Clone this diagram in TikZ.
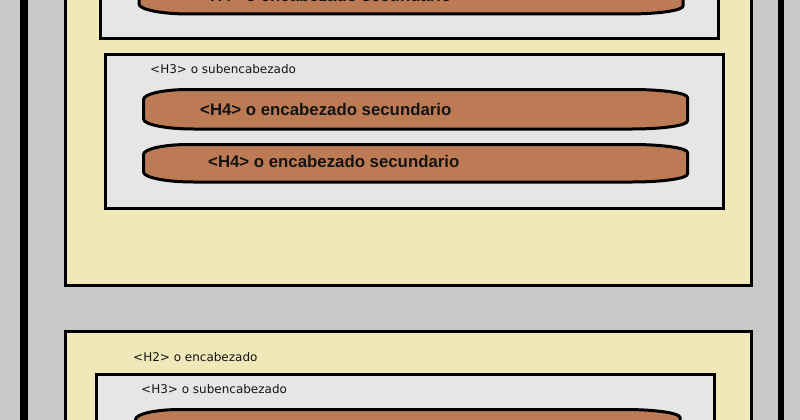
\documentclass[tikz,border=0pt]{standalone}
\usepackage{fontspec}
\setmainfont{Liberation Sans}
\newfontfamily\smallfont{DejaVu Sans}
\definecolor{bggray}{RGB}{200,200,200}
\definecolor{paleyellow}{RGB}{240,232,184}
\definecolor{lightgray}{RGB}{230,230,230}
\definecolor{pillbrown}{RGB}{188,123,84}
\newcommand\mypill[4]{%
  \filldraw[pillstyle] (#1,#2+10) arc[start angle=180,end angle=270,x radius=45,y radius=10]
    -- (#3-55,#2) arc[start angle=270,end angle=360,x radius=55,y radius=8]
    -- (#3,#4-8) arc[start angle=0,end angle=90,x radius=55,y radius=8]
    -- (#1+50,#4) arc[start angle=90,end angle=180,x radius=50,y radius=10] -- cycle;}
\tikzset{
  h2box/.style={fill=paleyellow,draw=black,line width=3pt},
  h3box/.style={fill=lightgray,draw=black,line width=3pt},
  pillstyle/.style={fill=pillbrown,draw=black,line width=3pt},
  h4text/.style={anchor=base west,inner sep=0pt,font=\fontsize{16.8}{18}\selectfont\bfseries,text=black!92},
  h3text/.style={anchor=base west,inner sep=0pt,font=\smallfont\fontsize{12}{14}\selectfont,text=black!92},
  rail/.style={fill=black}
}
\begin{document}
\begin{tikzpicture}[x=1pt,y=-1pt]
\useasboundingbox (0,0) rectangle (800,420);
\clip (0,0) rectangle (800,420);
\fill[bggray] (0,0) rectangle (800,420);
% side rails
\fill[rail] (20,-5) rectangle (27.5,425);
\fill[rail] (778,-5) rectangle (784,425);
% first H2 box
\filldraw[h2box] (65.5,-20) rectangle (751,285);
% first H3 box (cut at top)
\filldraw[h3box] (100,-20) rectangle (718.5,39);
\mypill{139}{-27}{683}{14}
\node[h4text] (t0) at (200,1.5) {<H4> o encabezado secundario};
% second H3 box
\filldraw[h3box] (105,54.5) rectangle (723,208);
\node[h3text] (h3a) at (150,74) {<H3> o subencabezado};
\mypill{143.5}{89.5}{687.5}{129}
\node[h4text] (t1) at (200,115) {<H4> o encabezado secundario};
\mypill{143.5}{144.5}{687.5}{182}
\node[h4text] (t2) at (208,167.7) {<H4> o encabezado secundario};
% second H2 box
\filldraw[h2box] (65.5,331) rectangle (751,440);
\node[h3text] (h2a) at (133,361) {<H2> o encabezado};
\filldraw[h3box] (96.5,374.5) rectangle (714.5,440);
\node[h3text] (h3b) at (141,393.3) {<H3> o subencabezado};
\mypill{135.5}{409.5}{680}{452}
\end{tikzpicture}
\end{document}
